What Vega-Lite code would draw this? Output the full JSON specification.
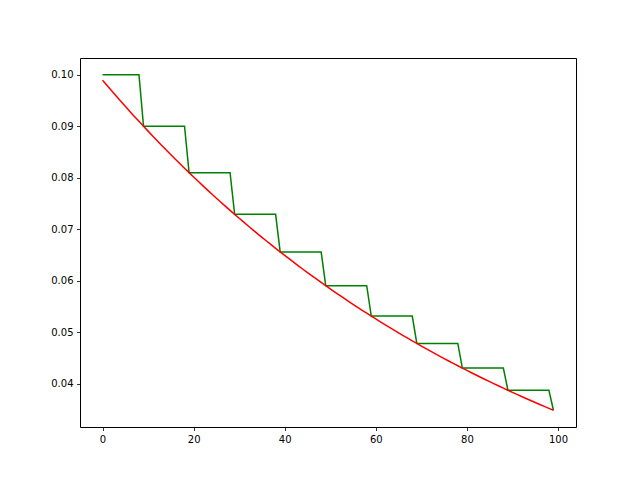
{
  "$schema": "https://vega.github.io/schema/vega-lite/v6.json",
  "width": 496,
  "height": 369,
  "autosize": {"type": "none"},
  "padding": {"left": 80, "top": 58, "right": 64, "bottom": 53},
  "background": "white",
  "config": {
    "view": {"stroke": "black", "strokeWidth": 1},
    "axis": {
      "grid": false,
      "domain": false,
      "tickColor": "black",
      "tickSize": 3.5,
      "tickWidth": 0.8,
      "labelFont": "DejaVu Sans",
      "labelFontSize": 10,
      "labelColor": "black",
      "labelPadding": 3.5,
      "title": null
    }
  },
  "datasets": {
    "green": [
      {"x":0,"y":0.1},{"x":1,"y":0.1},{"x":2,"y":0.1},{"x":3,"y":0.1},{"x":4,"y":0.1},{"x":5,"y":0.1},{"x":6,"y":0.1},{"x":7,"y":0.1},{"x":8,"y":0.1},
      {"x":9,"y":0.09},{"x":10,"y":0.09},{"x":11,"y":0.09},{"x":12,"y":0.09},{"x":13,"y":0.09},{"x":14,"y":0.09},{"x":15,"y":0.09},{"x":16,"y":0.09},{"x":17,"y":0.09},{"x":18,"y":0.09},
      {"x":19,"y":0.081},{"x":20,"y":0.081},{"x":21,"y":0.081},{"x":22,"y":0.081},{"x":23,"y":0.081},{"x":24,"y":0.081},{"x":25,"y":0.081},{"x":26,"y":0.081},{"x":27,"y":0.081},{"x":28,"y":0.081},
      {"x":29,"y":0.0729},{"x":30,"y":0.0729},{"x":31,"y":0.0729},{"x":32,"y":0.0729},{"x":33,"y":0.0729},{"x":34,"y":0.0729},{"x":35,"y":0.0729},{"x":36,"y":0.0729},{"x":37,"y":0.0729},{"x":38,"y":0.0729},
      {"x":39,"y":0.06561},{"x":40,"y":0.06561},{"x":41,"y":0.06561},{"x":42,"y":0.06561},{"x":43,"y":0.06561},{"x":44,"y":0.06561},{"x":45,"y":0.06561},{"x":46,"y":0.06561},{"x":47,"y":0.06561},{"x":48,"y":0.06561},
      {"x":49,"y":0.059049},{"x":50,"y":0.059049},{"x":51,"y":0.059049},{"x":52,"y":0.059049},{"x":53,"y":0.059049},{"x":54,"y":0.059049},{"x":55,"y":0.059049},{"x":56,"y":0.059049},{"x":57,"y":0.059049},{"x":58,"y":0.059049},
      {"x":59,"y":0.0531441},{"x":60,"y":0.0531441},{"x":61,"y":0.0531441},{"x":62,"y":0.0531441},{"x":63,"y":0.0531441},{"x":64,"y":0.0531441},{"x":65,"y":0.0531441},{"x":66,"y":0.0531441},{"x":67,"y":0.0531441},{"x":68,"y":0.0531441},
      {"x":69,"y":0.0478297},{"x":70,"y":0.0478297},{"x":71,"y":0.0478297},{"x":72,"y":0.0478297},{"x":73,"y":0.0478297},{"x":74,"y":0.0478297},{"x":75,"y":0.0478297},{"x":76,"y":0.0478297},{"x":77,"y":0.0478297},{"x":78,"y":0.0478297},
      {"x":79,"y":0.0430467},{"x":80,"y":0.0430467},{"x":81,"y":0.0430467},{"x":82,"y":0.0430467},{"x":83,"y":0.0430467},{"x":84,"y":0.0430467},{"x":85,"y":0.0430467},{"x":86,"y":0.0430467},{"x":87,"y":0.0430467},{"x":88,"y":0.0430467},
      {"x":89,"y":0.038742},{"x":90,"y":0.038742},{"x":91,"y":0.038742},{"x":92,"y":0.038742},{"x":93,"y":0.038742},{"x":94,"y":0.038742},{"x":95,"y":0.038742},{"x":96,"y":0.038742},{"x":97,"y":0.038742},{"x":98,"y":0.038742},
      {"x":99,"y":0.0348678}
    ],
    "red": [
      {"x":0,"y":0.0989519},{"x":1,"y":0.0979148},{"x":2,"y":0.0968886},{"x":3,"y":0.0958732},{"x":4,"y":0.0948683},{"x":5,"y":0.093874},{"x":6,"y":0.0928902},{"x":7,"y":0.0919166},{"x":8,"y":0.0909533},{"x":9,"y":0.09},
      {"x":10,"y":0.0890567},{"x":11,"y":0.0881233},{"x":12,"y":0.0871997},{"x":13,"y":0.0862859},{"x":14,"y":0.0853815},{"x":15,"y":0.0844866},{"x":16,"y":0.0836012},{"x":17,"y":0.0827249},{"x":18,"y":0.081858},{"x":19,"y":0.081},
      {"x":20,"y":0.080151},{"x":21,"y":0.079311},{"x":22,"y":0.0784798},{"x":23,"y":0.0776573},{"x":24,"y":0.0768433},{"x":25,"y":0.0760379},{"x":26,"y":0.0752411},{"x":27,"y":0.0744524},{"x":28,"y":0.0736722},{"x":29,"y":0.0729},
      {"x":30,"y":0.0721359},{"x":31,"y":0.0713799},{"x":32,"y":0.0706318},{"x":33,"y":0.0698916},{"x":34,"y":0.069159},{"x":35,"y":0.0684341},{"x":36,"y":0.067717},{"x":37,"y":0.0670072},{"x":38,"y":0.066305},{"x":39,"y":0.06561},
      {"x":40,"y":0.0649223},{"x":41,"y":0.0642419},{"x":42,"y":0.0635686},{"x":43,"y":0.0629024},{"x":44,"y":0.0622431},{"x":45,"y":0.0615907},{"x":46,"y":0.0609453},{"x":47,"y":0.0603065},{"x":48,"y":0.0596745},{"x":49,"y":0.059049},
      {"x":50,"y":0.0584301},{"x":51,"y":0.0578177},{"x":52,"y":0.0572118},{"x":53,"y":0.0566122},{"x":54,"y":0.0560188},{"x":55,"y":0.0554317},{"x":56,"y":0.0548507},{"x":57,"y":0.0542759},{"x":58,"y":0.053707},{"x":59,"y":0.0531441},
      {"x":60,"y":0.0525871},{"x":61,"y":0.052036},{"x":62,"y":0.0514906},{"x":63,"y":0.050951},{"x":64,"y":0.0504169},{"x":65,"y":0.0498886},{"x":66,"y":0.0493657},{"x":67,"y":0.0488482},{"x":68,"y":0.0483363},{"x":69,"y":0.0478297},
      {"x":70,"y":0.0473284},{"x":71,"y":0.0468324},{"x":72,"y":0.0463415},{"x":73,"y":0.0458558},{"x":74,"y":0.0453752},{"x":75,"y":0.0448997},{"x":76,"y":0.0444291},{"x":77,"y":0.0439634},{"x":78,"y":0.0435027},{"x":79,"y":0.0430467},
      {"x":80,"y":0.0425955},{"x":81,"y":0.0421491},{"x":82,"y":0.0417073},{"x":83,"y":0.0412702},{"x":84,"y":0.0408377},{"x":85,"y":0.0404097},{"x":86,"y":0.0399862},{"x":87,"y":0.0395671},{"x":88,"y":0.0391524},{"x":89,"y":0.038742},
      {"x":90,"y":0.038336},{"x":91,"y":0.0379342},{"x":92,"y":0.0375366},{"x":93,"y":0.0371432},{"x":94,"y":0.036754},{"x":95,"y":0.0363687},{"x":96,"y":0.0359876},{"x":97,"y":0.0356104},{"x":98,"y":0.0352372},{"x":99,"y":0.0348678}
    ]
  },
  "encoding": {
    "x": {
      "field": "x",
      "type": "quantitative",
      "scale": {"domain": [-4.95, 103.95], "nice": false, "zero": false},
      "axis": {"values": [0, 20, 40, 60, 80, 100], "format": "d"}
    },
    "y": {
      "field": "y",
      "type": "quantitative",
      "scale": {"domain": [0.0316112, 0.1032566], "nice": false, "zero": false},
      "axis": {"values": [0.04, 0.05, 0.06, 0.07, 0.08, 0.09, 0.1], "format": ".2f"}
    }
  },
  "layer": [
    {
      "data": {"name": "green"},
      "mark": {"type": "line", "color": "green", "strokeWidth": 1.5, "clip": true}
    },
    {
      "data": {"name": "red"},
      "mark": {"type": "line", "color": "red", "strokeWidth": 1.5, "clip": true}
    }
  ]
}
